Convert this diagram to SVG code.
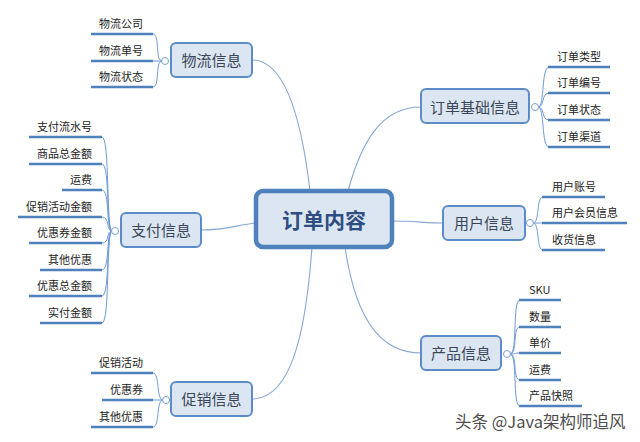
<svg xmlns="http://www.w3.org/2000/svg" width="640" height="442" viewBox="0 0 640 442">
<style>
text{font-family:"Noto Sans CJK SC","Noto Sans",sans-serif}
.node{fill:#dce6f2;stroke:#5b8cc8;stroke-width:2}
.center{fill:#dce6f2;stroke:#4f81bd;stroke-width:4.5}
.nt{font-size:15px;fill:#3a4658;text-anchor:middle}
.ct{font-size:21px;font-weight:bold;fill:#2e4d80;text-anchor:middle}
.lt{font-size:11px;fill:#222;text-anchor:end}
.rt{font-size:11px;fill:#222;text-anchor:start}
.ul{stroke:#4f81bd;stroke-width:2.5;fill:none}
.br{stroke:#6f9bd3;stroke-width:1;fill:none}
.cn{stroke:#86a8d6;stroke-width:1.1;fill:none}
.dot{fill:#fff;stroke:#7aa0d2;stroke-width:1}
.wm{font-size:16.5px;fill:#4d4d4d;stroke:#fff;stroke-width:2;paint-order:stroke}
</style>
<rect width="640" height="442" fill="#fff"/>
<g id="connectors">
<path class="cn" d="M252,60 C290,60 304,140 310,191"/>
<path class="cn" d="M201,230 C228,230 236,225 256,223"/>
<path class="cn" d="M312,247 C306,330 292,399 252,399"/>
<path class="cn" d="M348,191 C362,140 382,107 421,107"/>
<path class="cn" d="M392,221 C415,221 425,223 443,223"/>
<path class="cn" d="M345,247 C356,322 382,353 421,353"/>
</g>
<g id="center">
<rect class="center" x="256" y="191" width="136" height="56" rx="7"/>
<text class="ct" x="324" y="227.5">订单内容</text>
</g>
<g id="wuliu">
<rect class="node" x="171" y="43" width="81" height="34" rx="5"/>
<text class="nt" x="211.5" y="65.5">物流信息</text>
<path class="br" d="M162,61 C155,61 160,34 153,34"/>
<path class="br" d="M162,61 L153,61"/>
<path class="br" d="M162,61 C155,61 160,87 153,87"/>
<line class="ul" x1="91" y1="34" x2="153" y2="34"/>
<line class="ul" x1="91" y1="61" x2="153" y2="61"/>
<line class="ul" x1="91" y1="87" x2="153" y2="87"/>
<text class="lt" x="143" y="28">物流公司</text>
<text class="lt" x="143" y="55">物流单号</text>
<text class="lt" x="143" y="81">物流状态</text>
<circle class="dot" cx="165" cy="61" r="3.5"/>
</g>
<g id="zhifu">
<rect class="node" x="121" y="213" width="80" height="34" rx="5"/>
<text class="nt" x="161" y="235.5">支付信息</text>
<path class="br" d="M112,231 C106,231 110,137 102,137"/>
<path class="br" d="M112,231 C106,231 110,164 102,164"/>
<path class="br" d="M112,231 C106,231 110,190 102,190"/>
<path class="br" d="M112,231 C106,231 110,217 102,217"/>
<path class="br" d="M112,231 C106,231 110,243 102,243"/>
<path class="br" d="M112,231 C106,231 110,270 102,270"/>
<path class="br" d="M112,231 C106,231 110,296 102,296"/>
<path class="br" d="M112,231 C106,231 110,323 102,323"/>
<line class="ul" x1="29" y1="137" x2="102" y2="137"/>
<line class="ul" x1="29" y1="164" x2="102" y2="164"/>
<line class="ul" x1="62" y1="190" x2="102" y2="190"/>
<line class="ul" x1="18" y1="217" x2="102" y2="217"/>
<line class="ul" x1="29" y1="243" x2="102" y2="243"/>
<line class="ul" x1="40" y1="270" x2="102" y2="270"/>
<line class="ul" x1="29" y1="296" x2="102" y2="296"/>
<line class="ul" x1="40" y1="323" x2="102" y2="323"/>
<text class="lt" x="92" y="131">支付流水号</text>
<text class="lt" x="92" y="158">商品总金额</text>
<text class="lt" x="92" y="184">运费</text>
<text class="lt" x="92" y="211">促销活动金额</text>
<text class="lt" x="92" y="237">优惠券金额</text>
<text class="lt" x="92" y="264">其他优惠</text>
<text class="lt" x="92" y="290">优惠总金额</text>
<text class="lt" x="92" y="317">实付金额</text>
<circle class="dot" cx="115" cy="231" r="3.5"/>
</g>
<g id="cuxiao">
<rect class="node" x="171" y="382" width="81" height="34" rx="5"/>
<text class="nt" x="211.5" y="404.5">促销信息</text>
<path class="br" d="M163,400 C156,400 160,373 153,373"/>
<path class="br" d="M163,400 L153,400"/>
<path class="br" d="M163,400 C156,400 160,427 153,427"/>
<line class="ul" x1="91" y1="373" x2="153" y2="373"/>
<line class="ul" x1="102" y1="400" x2="153" y2="400"/>
<line class="ul" x1="91" y1="427" x2="153" y2="427"/>
<text class="lt" x="143" y="367">促销活动</text>
<text class="lt" x="143" y="394">优惠券</text>
<text class="lt" x="143" y="421">其他优惠</text>
<circle class="dot" cx="166" cy="400" r="3.5"/>
</g>
<g id="dingdan">
<rect class="node" x="421" y="89" width="108" height="34" rx="5"/>
<text class="nt" x="475" y="112.5">订单基础信息</text>
<path class="br" d="M538,107 C545,107 541,67 549,67"/>
<path class="br" d="M538,107 C545,107 541,93 549,93"/>
<path class="br" d="M538,107 C545,107 541,120 549,120"/>
<path class="br" d="M538,107 C545,107 541,147 549,147"/>
<line class="ul" x1="548" y1="67" x2="610" y2="67"/>
<line class="ul" x1="548" y1="93" x2="610" y2="93"/>
<line class="ul" x1="548" y1="120" x2="610" y2="120"/>
<line class="ul" x1="548" y1="147" x2="610" y2="147"/>
<text class="rt" x="557" y="61">订单类型</text>
<text class="rt" x="557" y="87">订单编号</text>
<text class="rt" x="557" y="114">订单状态</text>
<text class="rt" x="557" y="141">订单渠道</text>
<circle class="dot" cx="535" cy="107" r="3.5"/>
</g>
<g id="yonghu">
<rect class="node" x="443" y="206" width="82" height="34" rx="5"/>
<text class="nt" x="484" y="228.5">用户信息</text>
<path class="br" d="M533,223 C540,223 536,197 543,197"/>
<path class="br" d="M533,223 L543,223"/>
<path class="br" d="M533,223 C540,223 536,250 543,250"/>
<line class="ul" x1="542" y1="197" x2="605" y2="197"/>
<line class="ul" x1="542" y1="223" x2="627" y2="223"/>
<line class="ul" x1="542" y1="250" x2="605" y2="250"/>
<text class="rt" x="552" y="191">用户账号</text>
<text class="rt" x="552" y="217">用户会员信息</text>
<text class="rt" x="552" y="244">收货信息</text>
<circle class="dot" cx="530" cy="223" r="3.5"/>
</g>
<g id="chanpin">
<rect class="node" x="421" y="336" width="80" height="34" rx="5"/>
<text class="nt" x="461" y="358.5">产品信息</text>
<path class="br" d="M510,354 C518,354 512,300 520,300"/>
<path class="br" d="M510,354 C518,354 512,327 520,327"/>
<path class="br" d="M510,354 C516,354 514,353 520,353"/>
<path class="br" d="M510,354 C518,354 512,380 520,380"/>
<path class="br" d="M510,354 C518,354 512,406 520,406"/>
<line class="ul" x1="519" y1="300" x2="561" y2="300"/>
<line class="ul" x1="519" y1="327" x2="561" y2="327"/>
<line class="ul" x1="519" y1="353" x2="561" y2="353"/>
<line class="ul" x1="519" y1="380" x2="561" y2="380"/>
<line class="ul" x1="519" y1="406" x2="582" y2="406"/>
<text class="rt" x="529" y="294">SKU</text>
<text class="rt" x="529" y="321">数量</text>
<text class="rt" x="529" y="347">单价</text>
<text class="rt" x="529" y="374">运费</text>
<text class="rt" x="529" y="400">产品快照</text>
<circle class="dot" cx="507" cy="354" r="3.5"/>
</g>
<text class="wm" x="455" y="428">头条 @Java架构师追风</text>
</svg>
